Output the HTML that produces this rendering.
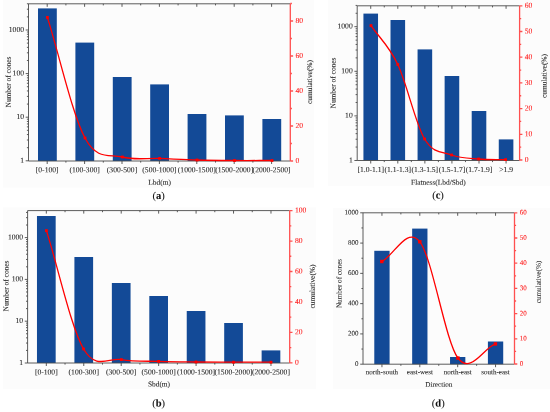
<!DOCTYPE html>
<html><head><meta charset="utf-8"><style>
html,body{margin:0;padding:0;background:#fff;}
svg{display:block;font-family:'Liberation Serif','Times New Roman',serif;} text{stroke-width:0.08px;}
</style></head><body>
<svg width="550" height="412" viewBox="0 0 550 412">
<rect width="550" height="412" fill="#fff"/>
<rect x="3" y="0" width="311" height="187.5" fill="#fcfcfc"/>
<rect x="38" y="8.4" width="18.8" height="152.6" fill="#134a97"/>
<rect x="75.4" y="42.6" width="18.8" height="118.4" fill="#134a97"/>
<rect x="112.8" y="77" width="18.8" height="84" fill="#134a97"/>
<rect x="150.2" y="84.4" width="18.8" height="76.6" fill="#134a97"/>
<rect x="187.6" y="114" width="18.8" height="47" fill="#134a97"/>
<rect x="225" y="115.4" width="18.8" height="45.6" fill="#134a97"/>
<rect x="262.4" y="119" width="18.8" height="42" fill="#134a97"/>
<path d="M28.5 3.8 V161 H290.3 M28.5 3.8 H290.3" stroke="#4a4a4a" stroke-width="0.9" fill="none"/>
<path d="M47.2 161 v3 M47.2 3.8 v3 M84.6 161 v3 M84.6 3.8 v3 M122 161 v3 M122 3.8 v3 M159.4 161 v3 M159.4 3.8 v3 M196.8 161 v3 M196.8 3.8 v3 M234.2 161 v3 M234.2 3.8 v3 M271.6 161 v3 M271.6 3.8 v3 M65.9 161 v1.6 M65.9 3.8 v1.6 M103.3 161 v1.6 M103.3 3.8 v1.6 M140.7 161 v1.6 M140.7 3.8 v1.6 M178.1 161 v1.6 M178.1 3.8 v1.6 M215.5 161 v1.6 M215.5 3.8 v1.6 M252.9 161 v1.6 M252.9 3.8 v1.6 M28.5 160.8 h-2.8 M28.5 147.68 h-1.6 M28.5 140 h-1.6 M28.5 134.55 h-1.6 M28.5 130.32 h-1.6 M28.5 126.87 h-1.6 M28.5 123.95 h-1.6 M28.5 121.43 h-1.6 M28.5 119.2 h-1.6 M28.5 117.2 h-2.8 M28.5 104.08 h-1.6 M28.5 96.4 h-1.6 M28.5 90.95 h-1.6 M28.5 86.72 h-1.6 M28.5 83.27 h-1.6 M28.5 80.35 h-1.6 M28.5 77.83 h-1.6 M28.5 75.6 h-1.6 M28.5 73.6 h-2.8 M28.5 60.48 h-1.6 M28.5 52.8 h-1.6 M28.5 47.35 h-1.6 M28.5 43.12 h-1.6 M28.5 39.67 h-1.6 M28.5 36.75 h-1.6 M28.5 34.23 h-1.6 M28.5 32 h-1.6 M28.5 30 h-2.8 M28.5 16.88 h-1.6 M28.5 9.2 h-1.6 M28.5 3.75 h-1.6" stroke="#4a4a4a" stroke-width="0.9" fill="none"/>
<text transform="rotate(0.06 24 160.8)" x="24" y="162.71" font-size="7.6" text-anchor="end" fill="#262626" stroke="#262626">1</text>
<text transform="rotate(0.06 24 117.2)" x="24" y="119.11" font-size="7.6" text-anchor="end" fill="#262626" stroke="#262626">10</text>
<text transform="rotate(0.06 24 73.6)" x="24" y="75.51" font-size="7.6" text-anchor="end" fill="#262626" stroke="#262626">100</text>
<text transform="rotate(0.06 24 30)" x="24" y="31.91" font-size="7.6" text-anchor="end" fill="#262626" stroke="#262626">1000</text>
<path d="M290.3 3.8 V161 M290.3 161 h2.8 M290.3 143.5 h1.6 M290.3 126 h2.8 M290.3 108.5 h1.6 M290.3 91 h2.8 M290.3 73.5 h1.6 M290.3 56 h2.8 M290.3 38.5 h1.6 M290.3 21 h2.8 M290.3 3.5 h1.6" stroke="#ff5050" stroke-width="1.3" fill="none"/>
<text transform="rotate(0.06 295.5 161)" x="295.5" y="163.01" font-size="7.6" fill="#ff1a1a" stroke="#ff1a1a">0</text>
<text transform="rotate(0.06 295.5 126)" x="295.5" y="128.01" font-size="7.6" fill="#ff1a1a" stroke="#ff1a1a">20</text>
<text transform="rotate(0.06 295.5 91)" x="295.5" y="93.01" font-size="7.6" fill="#ff1a1a" stroke="#ff1a1a">40</text>
<text transform="rotate(0.06 295.5 56)" x="295.5" y="58.01" font-size="7.6" fill="#ff1a1a" stroke="#ff1a1a">60</text>
<text transform="rotate(0.06 295.5 21)" x="295.5" y="23.01" font-size="7.6" fill="#ff1a1a" stroke="#ff1a1a">80</text>
<text transform="rotate(0.06 47.2 172.2)" x="47.2" y="172.2" font-size="7.6" text-anchor="middle" fill="#262626" stroke="#262626">[0-100]</text>
<text transform="rotate(0.06 84.6 172.2)" x="84.6" y="172.2" font-size="7.6" text-anchor="middle" fill="#262626" stroke="#262626">(100-300]</text>
<text transform="rotate(0.06 122 172.2)" x="122" y="172.2" font-size="7.6" text-anchor="middle" fill="#262626" stroke="#262626">(300-500]</text>
<text transform="rotate(0.06 159.4 172.2)" x="159.4" y="172.2" font-size="7.6" text-anchor="middle" fill="#262626" stroke="#262626">(500-1000]</text>
<text transform="rotate(0.06 196.8 172.2)" x="196.8" y="172.2" font-size="7.6" text-anchor="middle" fill="#262626" stroke="#262626">(1000-1500]</text>
<text transform="rotate(0.06 234.2 172.2)" x="234.2" y="172.2" font-size="7.6" text-anchor="middle" fill="#262626" stroke="#262626">(1500-2000]</text>
<text transform="rotate(0.06 271.6 172.2)" x="271.6" y="172.2" font-size="7.6" text-anchor="middle" fill="#262626" stroke="#262626">(2000-2500]</text>
<text transform="rotate(0.06 159.6 184.8)" x="159.6" y="184.8" font-size="7.4" text-anchor="middle" fill="#262626" stroke="#262626">Lbd(m)</text>
<text transform="translate(10.8 82) rotate(-89.94)" font-size="7.4" text-anchor="middle" fill="#262626" stroke="#262626">Number of cones</text>
<text transform="translate(312 82) rotate(-89.94)" font-size="7.4" text-anchor="middle" fill="#262626" stroke="#262626">cumulative(%)</text>
<text transform="rotate(0.06 158.6 199)" x="158.6" y="199" font-size="10.5" text-anchor="middle" fill="#111" stroke="#111">(<tspan font-weight="bold">a</tspan>)</text>
<path d="M47.4 17.4 C59.93 57.6 72.5 114.73 85 138 C97.5 161.27 109.97 153.6 122.4 157 C134.83 160.4 147.17 157.9 159.6 158.4 C172.03 158.9 184.52 159.65 197 160 C209.48 160.35 222 160.42 234.5 160.5 C247 160.58 259.5 160.5 272 160.5" stroke="#ff0000" stroke-width="1.3" fill="none" stroke-linejoin="round"/>
<rect x="46" y="16" width="2.8" height="2.8" fill="#ff0000"/>
<rect x="83.6" y="136.6" width="2.8" height="2.8" fill="#ff0000"/>
<rect x="121" y="155.6" width="2.8" height="2.8" fill="#ff0000"/>
<rect x="158.2" y="157" width="2.8" height="2.8" fill="#ff0000"/>
<rect x="195.6" y="158.6" width="2.8" height="2.8" fill="#ff0000"/>
<rect x="233.1" y="159.1" width="2.8" height="2.8" fill="#ff0000"/>
<rect x="270.6" y="159.1" width="2.8" height="2.8" fill="#ff0000"/>
<rect x="328" y="0" width="222" height="186" fill="#fcfcfc"/>
<rect x="363.43" y="13.6" width="14.6" height="146.9" fill="#134a97"/>
<rect x="390.5" y="20" width="14.6" height="140.5" fill="#134a97"/>
<rect x="417.57" y="49.4" width="14.6" height="111.1" fill="#134a97"/>
<rect x="444.63" y="76" width="14.6" height="84.5" fill="#134a97"/>
<rect x="471.7" y="111" width="14.6" height="49.5" fill="#134a97"/>
<rect x="498.77" y="139.4" width="14.6" height="21.1" fill="#134a97"/>
<path d="M357.2 5.8 V160.5 H519.6 M357.2 5.8 H519.6" stroke="#4a4a4a" stroke-width="0.9" fill="none"/>
<path d="M370.73 160.5 v3 M370.73 5.8 v3 M397.8 160.5 v3 M397.8 5.8 v3 M424.87 160.5 v3 M424.87 5.8 v3 M451.93 160.5 v3 M451.93 5.8 v3 M479 160.5 v3 M479 5.8 v3 M506.07 160.5 v3 M506.07 5.8 v3 M384.27 160.5 v1.6 M384.27 5.8 v1.6 M411.33 160.5 v1.6 M411.33 5.8 v1.6 M438.4 160.5 v1.6 M438.4 5.8 v1.6 M465.47 160.5 v1.6 M465.47 5.8 v1.6 M492.53 160.5 v1.6 M492.53 5.8 v1.6 M357.2 160.5 h-2.8 M357.2 147.07 h-1.6 M357.2 139.22 h-1.6 M357.2 133.65 h-1.6 M357.2 129.33 h-1.6 M357.2 125.79 h-1.6 M357.2 122.81 h-1.6 M357.2 120.22 h-1.6 M357.2 117.94 h-1.6 M357.2 115.9 h-2.8 M357.2 102.47 h-1.6 M357.2 94.62 h-1.6 M357.2 89.05 h-1.6 M357.2 84.73 h-1.6 M357.2 81.19 h-1.6 M357.2 78.21 h-1.6 M357.2 75.62 h-1.6 M357.2 73.34 h-1.6 M357.2 71.3 h-2.8 M357.2 57.87 h-1.6 M357.2 50.02 h-1.6 M357.2 44.45 h-1.6 M357.2 40.13 h-1.6 M357.2 36.59 h-1.6 M357.2 33.61 h-1.6 M357.2 31.02 h-1.6 M357.2 28.74 h-1.6 M357.2 26.7 h-2.8 M357.2 13.27 h-1.6 M357.2 5.42 h-1.6" stroke="#4a4a4a" stroke-width="0.9" fill="none"/>
<text transform="rotate(0.06 352.7 160.5)" x="352.7" y="162.41" font-size="7.6" text-anchor="end" fill="#262626" stroke="#262626">1</text>
<text transform="rotate(0.06 352.7 115.9)" x="352.7" y="117.81" font-size="7.6" text-anchor="end" fill="#262626" stroke="#262626">10</text>
<text transform="rotate(0.06 352.7 71.3)" x="352.7" y="73.21" font-size="7.6" text-anchor="end" fill="#262626" stroke="#262626">100</text>
<text transform="rotate(0.06 352.7 26.7)" x="352.7" y="28.61" font-size="7.6" text-anchor="end" fill="#262626" stroke="#262626">1000</text>
<path d="M519.6 5.8 V160.5 M519.6 160 h2.8 M519.6 147.15 h1.6 M519.6 134.3 h2.8 M519.6 121.45 h1.6 M519.6 108.6 h2.8 M519.6 95.75 h1.6 M519.6 82.9 h2.8 M519.6 70.05 h1.6 M519.6 57.2 h2.8 M519.6 44.35 h1.6 M519.6 31.5 h2.8 M519.6 18.65 h1.6 M519.6 5.8 h2.8" stroke="#ff5050" stroke-width="1.3" fill="none"/>
<text transform="rotate(0.06 524.8 160)" x="524.8" y="162.01" font-size="7.6" fill="#ff1a1a" stroke="#ff1a1a">0</text>
<text transform="rotate(0.06 524.8 134.3)" x="524.8" y="136.31" font-size="7.6" fill="#ff1a1a" stroke="#ff1a1a">10</text>
<text transform="rotate(0.06 524.8 108.6)" x="524.8" y="110.61" font-size="7.6" fill="#ff1a1a" stroke="#ff1a1a">20</text>
<text transform="rotate(0.06 524.8 82.9)" x="524.8" y="84.91" font-size="7.6" fill="#ff1a1a" stroke="#ff1a1a">30</text>
<text transform="rotate(0.06 524.8 57.2)" x="524.8" y="59.21" font-size="7.6" fill="#ff1a1a" stroke="#ff1a1a">40</text>
<text transform="rotate(0.06 524.8 31.5)" x="524.8" y="33.51" font-size="7.6" fill="#ff1a1a" stroke="#ff1a1a">50</text>
<text transform="rotate(0.06 524.8 5.8)" x="524.8" y="7.81" font-size="7.6" fill="#ff1a1a" stroke="#ff1a1a">60</text>
<text transform="rotate(0.06 370.73 172)" x="370.73" y="172" font-size="7.6" text-anchor="middle" fill="#262626" stroke="#262626">[1.0-1.1]</text>
<text transform="rotate(0.06 397.8 172)" x="397.8" y="172" font-size="7.6" text-anchor="middle" fill="#262626" stroke="#262626">(1.1-1.3]</text>
<text transform="rotate(0.06 424.87 172)" x="424.87" y="172" font-size="7.6" text-anchor="middle" fill="#262626" stroke="#262626">(1.3-1.5]</text>
<text transform="rotate(0.06 451.93 172)" x="451.93" y="172" font-size="7.6" text-anchor="middle" fill="#262626" stroke="#262626">(1.5-1.7]</text>
<text transform="rotate(0.06 479 172)" x="479" y="172" font-size="7.6" text-anchor="middle" fill="#262626" stroke="#262626">(1.7-1.9]</text>
<text transform="rotate(0.06 506.07 172)" x="506.07" y="172" font-size="7.6" text-anchor="middle" fill="#262626" stroke="#262626">>1.9</text>
<text transform="rotate(0.06 438.4 184.7)" x="438.4" y="184.7" font-size="7.4" text-anchor="middle" fill="#262626" stroke="#262626">Flatness(Lbd/Sbd)</text>
<text transform="translate(335.6 83) rotate(-89.94)" font-size="7.4" text-anchor="middle" fill="#262626" stroke="#262626">Number of cones</text>
<text transform="translate(546.4 76) rotate(-89.94)" font-size="7.4" text-anchor="middle" fill="#262626" stroke="#262626">cumulative(%)</text>
<text transform="rotate(0.06 438 198.5)" x="438" y="198.5" font-size="10.5" text-anchor="middle" fill="#111" stroke="#111">(<tspan font-weight="bold">c</tspan>)</text>
<path d="M371 25.6 C379.93 38.57 388.87 45.6 397.8 64.5 C406.73 83.4 415.63 123.92 424.6 139 C433.57 154.08 442.6 151.67 451.6 155 C460.6 158.33 469.6 158.23 478.6 159 C487.6 159.77 496.6 159.4 505.6 159.6" stroke="#ff0000" stroke-width="1.3" fill="none" stroke-linejoin="round"/>
<rect x="369.6" y="24.2" width="2.8" height="2.8" fill="#ff0000"/>
<rect x="396.4" y="63.1" width="2.8" height="2.8" fill="#ff0000"/>
<rect x="423.2" y="137.6" width="2.8" height="2.8" fill="#ff0000"/>
<rect x="450.2" y="153.6" width="2.8" height="2.8" fill="#ff0000"/>
<rect x="477.2" y="157.6" width="2.8" height="2.8" fill="#ff0000"/>
<rect x="504.2" y="158.2" width="2.8" height="2.8" fill="#ff0000"/>
<rect x="3" y="207.5" width="313" height="181.5" fill="#fcfcfc"/>
<rect x="36.97" y="216" width="18.7" height="147" fill="#134a97"/>
<rect x="74.41" y="257" width="18.7" height="106" fill="#134a97"/>
<rect x="111.86" y="283" width="18.7" height="80" fill="#134a97"/>
<rect x="149.3" y="296" width="18.7" height="67" fill="#134a97"/>
<rect x="186.74" y="311" width="18.7" height="52" fill="#134a97"/>
<rect x="224.19" y="323" width="18.7" height="40" fill="#134a97"/>
<rect x="261.63" y="350.4" width="18.7" height="12.6" fill="#134a97"/>
<path d="M27.6 210.6 V363 H289.7 M27.6 210.6 H289.7" stroke="#4a4a4a" stroke-width="0.9" fill="none"/>
<path d="M46.32 363 v3 M46.32 210.6 v3 M83.76 363 v3 M83.76 210.6 v3 M121.21 363 v3 M121.21 210.6 v3 M158.65 363 v3 M158.65 210.6 v3 M196.09 363 v3 M196.09 210.6 v3 M233.54 363 v3 M233.54 210.6 v3 M270.98 363 v3 M270.98 210.6 v3 M65.04 363 v1.6 M65.04 210.6 v1.6 M102.49 363 v1.6 M102.49 210.6 v1.6 M139.93 363 v1.6 M139.93 210.6 v1.6 M177.37 363 v1.6 M177.37 210.6 v1.6 M214.81 363 v1.6 M214.81 210.6 v1.6 M252.26 363 v1.6 M252.26 210.6 v1.6 M27.6 363 h-2.8 M27.6 350.42 h-1.6 M27.6 343.06 h-1.6 M27.6 337.83 h-1.6 M27.6 333.78 h-1.6 M27.6 330.47 h-1.6 M27.6 327.67 h-1.6 M27.6 325.25 h-1.6 M27.6 323.11 h-1.6 M27.6 321.2 h-2.8 M27.6 308.62 h-1.6 M27.6 301.26 h-1.6 M27.6 296.03 h-1.6 M27.6 291.98 h-1.6 M27.6 288.67 h-1.6 M27.6 285.87 h-1.6 M27.6 283.45 h-1.6 M27.6 281.31 h-1.6 M27.6 279.4 h-2.8 M27.6 266.82 h-1.6 M27.6 259.46 h-1.6 M27.6 254.23 h-1.6 M27.6 250.18 h-1.6 M27.6 246.87 h-1.6 M27.6 244.07 h-1.6 M27.6 241.65 h-1.6 M27.6 239.51 h-1.6 M27.6 237.6 h-2.8 M27.6 225.02 h-1.6 M27.6 217.66 h-1.6 M27.6 212.43 h-1.6" stroke="#4a4a4a" stroke-width="0.9" fill="none"/>
<text transform="rotate(0.06 23.1 363)" x="23.1" y="364.91" font-size="7.6" text-anchor="end" fill="#262626" stroke="#262626">1</text>
<text transform="rotate(0.06 23.1 321.2)" x="23.1" y="323.11" font-size="7.6" text-anchor="end" fill="#262626" stroke="#262626">10</text>
<text transform="rotate(0.06 23.1 279.4)" x="23.1" y="281.31" font-size="7.6" text-anchor="end" fill="#262626" stroke="#262626">100</text>
<text transform="rotate(0.06 23.1 237.6)" x="23.1" y="239.51" font-size="7.6" text-anchor="end" fill="#262626" stroke="#262626">1000</text>
<path d="M289.7 210.6 V363 M289.7 362.8 h2.8 M289.7 347.58 h1.6 M289.7 332.36 h2.8 M289.7 317.14 h1.6 M289.7 301.92 h2.8 M289.7 286.7 h1.6 M289.7 271.48 h2.8 M289.7 256.26 h1.6 M289.7 241.04 h2.8 M289.7 225.82 h1.6 M289.7 210.6 h2.8" stroke="#ff5050" stroke-width="1.3" fill="none"/>
<text transform="rotate(0.06 294.9 362.8)" x="294.9" y="364.81" font-size="7.6" fill="#ff1a1a" stroke="#ff1a1a">0</text>
<text transform="rotate(0.06 294.9 332.36)" x="294.9" y="334.37" font-size="7.6" fill="#ff1a1a" stroke="#ff1a1a">20</text>
<text transform="rotate(0.06 294.9 301.92)" x="294.9" y="303.93" font-size="7.6" fill="#ff1a1a" stroke="#ff1a1a">40</text>
<text transform="rotate(0.06 294.9 271.48)" x="294.9" y="273.49" font-size="7.6" fill="#ff1a1a" stroke="#ff1a1a">60</text>
<text transform="rotate(0.06 294.9 241.04)" x="294.9" y="243.05" font-size="7.6" fill="#ff1a1a" stroke="#ff1a1a">80</text>
<text transform="rotate(0.06 294.9 210.6)" x="294.9" y="212.61" font-size="7.6" fill="#ff1a1a" stroke="#ff1a1a">100</text>
<text transform="rotate(0.06 46.32 374.4)" x="46.32" y="374.4" font-size="7.6" text-anchor="middle" fill="#262626" stroke="#262626">[0-100]</text>
<text transform="rotate(0.06 83.76 374.4)" x="83.76" y="374.4" font-size="7.6" text-anchor="middle" fill="#262626" stroke="#262626">(100-300]</text>
<text transform="rotate(0.06 121.21 374.4)" x="121.21" y="374.4" font-size="7.6" text-anchor="middle" fill="#262626" stroke="#262626">(300-500]</text>
<text transform="rotate(0.06 158.65 374.4)" x="158.65" y="374.4" font-size="7.6" text-anchor="middle" fill="#262626" stroke="#262626">(500-1000]</text>
<text transform="rotate(0.06 196.09 374.4)" x="196.09" y="374.4" font-size="7.6" text-anchor="middle" fill="#262626" stroke="#262626">(1000-1500]</text>
<text transform="rotate(0.06 233.54 374.4)" x="233.54" y="374.4" font-size="7.6" text-anchor="middle" fill="#262626" stroke="#262626">(1500-2000]</text>
<text transform="rotate(0.06 270.98 374.4)" x="270.98" y="374.4" font-size="7.6" text-anchor="middle" fill="#262626" stroke="#262626">(2000-2500]</text>
<text transform="rotate(0.06 159 386.6)" x="159" y="386.6" font-size="7.4" text-anchor="middle" fill="#262626" stroke="#262626">Sbd(m)</text>
<text transform="translate(8.4 286) rotate(-89.94)" font-size="7.4" text-anchor="middle" fill="#262626" stroke="#262626">Number of cones</text>
<text transform="translate(314.7 286.5) rotate(-89.94)" font-size="7.4" text-anchor="middle" fill="#262626" stroke="#262626">cumulative(%)</text>
<text transform="rotate(0.06 158.6 406.5)" x="158.6" y="406.5" font-size="10.5" text-anchor="middle" fill="#111" stroke="#111">(<tspan font-weight="bold">b</tspan>)</text>
<path d="M46.4 230.6 C58.8 270.07 71.1 327.5 83.6 349 C96.1 370.5 108.9 357.53 121.4 359.6 C133.9 361.67 146.17 361 158.6 361.4 C171.03 361.8 183.52 361.87 196 362 C208.48 362.13 221 362.17 233.5 362.2 C246 362.23 258.5 362.2 271 362.2" stroke="#ff0000" stroke-width="1.3" fill="none" stroke-linejoin="round"/>
<rect x="45" y="229.2" width="2.8" height="2.8" fill="#ff0000"/>
<rect x="82.2" y="347.6" width="2.8" height="2.8" fill="#ff0000"/>
<rect x="120" y="358.2" width="2.8" height="2.8" fill="#ff0000"/>
<rect x="157.2" y="360" width="2.8" height="2.8" fill="#ff0000"/>
<rect x="194.6" y="360.6" width="2.8" height="2.8" fill="#ff0000"/>
<rect x="232.1" y="360.8" width="2.8" height="2.8" fill="#ff0000"/>
<rect x="269.6" y="360.8" width="2.8" height="2.8" fill="#ff0000"/>
<rect x="333" y="208" width="217" height="181" fill="#fcfcfc"/>
<rect x="374.29" y="250.8" width="15.3" height="113.4" fill="#134a97"/>
<rect x="412.16" y="228.6" width="15.3" height="135.6" fill="#134a97"/>
<rect x="450.04" y="357" width="15.3" height="7.2" fill="#134a97"/>
<rect x="487.91" y="341.5" width="15.3" height="22.7" fill="#134a97"/>
<path d="M363 212.8 V364.2 H514.5 M363 212.8 H514.5" stroke="#4a4a4a" stroke-width="0.9" fill="none"/>
<path d="M381.94 364.2 v3 M381.94 212.8 v3 M419.81 364.2 v3 M419.81 212.8 v3 M457.69 364.2 v3 M457.69 212.8 v3 M495.56 364.2 v3 M495.56 212.8 v3 M400.88 364.2 v1.6 M400.88 212.8 v1.6 M438.75 364.2 v1.6 M438.75 212.8 v1.6 M476.62 364.2 v1.6 M476.62 212.8 v1.6 M363 364.2 h-2.8 M363 349.06 h-1.6 M363 333.92 h-2.8 M363 318.78 h-1.6 M363 303.64 h-2.8 M363 288.5 h-1.6 M363 273.36 h-2.8 M363 258.22 h-1.6 M363 243.08 h-2.8 M363 227.94 h-1.6 M363 212.8 h-2.8" stroke="#4a4a4a" stroke-width="0.9" fill="none"/>
<text transform="rotate(0.06 358.5 364.2)" x="358.5" y="365.91" font-size="7.0" text-anchor="end" fill="#262626" stroke="#262626">0</text>
<text transform="rotate(0.06 358.5 333.92)" x="358.5" y="335.63" font-size="7.0" text-anchor="end" fill="#262626" stroke="#262626">200</text>
<text transform="rotate(0.06 358.5 303.64)" x="358.5" y="305.35" font-size="7.0" text-anchor="end" fill="#262626" stroke="#262626">400</text>
<text transform="rotate(0.06 358.5 273.36)" x="358.5" y="275.07" font-size="7.0" text-anchor="end" fill="#262626" stroke="#262626">600</text>
<text transform="rotate(0.06 358.5 243.08)" x="358.5" y="244.79" font-size="7.0" text-anchor="end" fill="#262626" stroke="#262626">800</text>
<text transform="rotate(0.06 358.5 212.8)" x="358.5" y="214.51" font-size="7.0" text-anchor="end" fill="#262626" stroke="#262626">1000</text>
<path d="M514.5 212.8 V364.2 M514.5 364 h2.8 M514.5 351.4 h1.6 M514.5 338.8 h2.8 M514.5 326.2 h1.6 M514.5 313.6 h2.8 M514.5 301 h1.6 M514.5 288.4 h2.8 M514.5 275.8 h1.6 M514.5 263.2 h2.8 M514.5 250.6 h1.6 M514.5 238 h2.8 M514.5 225.4 h1.6 M514.5 212.8 h2.8" stroke="#ff5050" stroke-width="1.3" fill="none"/>
<text transform="rotate(0.06 519.7 364)" x="519.7" y="365.81" font-size="7.0" fill="#ff1a1a" stroke="#ff1a1a">0</text>
<text transform="rotate(0.06 519.7 338.8)" x="519.7" y="340.61" font-size="7.0" fill="#ff1a1a" stroke="#ff1a1a">10</text>
<text transform="rotate(0.06 519.7 313.6)" x="519.7" y="315.41" font-size="7.0" fill="#ff1a1a" stroke="#ff1a1a">20</text>
<text transform="rotate(0.06 519.7 288.4)" x="519.7" y="290.21" font-size="7.0" fill="#ff1a1a" stroke="#ff1a1a">30</text>
<text transform="rotate(0.06 519.7 263.2)" x="519.7" y="265.01" font-size="7.0" fill="#ff1a1a" stroke="#ff1a1a">40</text>
<text transform="rotate(0.06 519.7 238)" x="519.7" y="239.81" font-size="7.0" fill="#ff1a1a" stroke="#ff1a1a">50</text>
<text transform="rotate(0.06 519.7 212.8)" x="519.7" y="214.61" font-size="7.0" fill="#ff1a1a" stroke="#ff1a1a">60</text>
<text transform="rotate(0.06 381.94 374.3)" x="381.94" y="374.3" font-size="7.0" text-anchor="middle" fill="#262626" stroke="#262626">north-south</text>
<text transform="rotate(0.06 419.81 374.3)" x="419.81" y="374.3" font-size="7.0" text-anchor="middle" fill="#262626" stroke="#262626">east-west</text>
<text transform="rotate(0.06 457.69 374.3)" x="457.69" y="374.3" font-size="7.0" text-anchor="middle" fill="#262626" stroke="#262626">north-east</text>
<text transform="rotate(0.06 495.56 374.3)" x="495.56" y="374.3" font-size="7.0" text-anchor="middle" fill="#262626" stroke="#262626">south-east</text>
<text transform="rotate(0.06 438.8 386.8)" x="438.8" y="386.8" font-size="7.15" text-anchor="middle" fill="#262626" stroke="#262626">Direction</text>
<text transform="translate(341.4 283.5) rotate(-89.94)" font-size="7.15" text-anchor="middle" fill="#262626" stroke="#262626">Number of cones</text>
<text transform="translate(540.8 282) rotate(-89.94)" font-size="7.15" text-anchor="middle" fill="#262626" stroke="#262626">cumulative(%)</text>
<text transform="rotate(0.06 438.3 406.5)" x="438.3" y="406.5" font-size="10.5" text-anchor="middle" fill="#111" stroke="#111">(<tspan font-weight="bold">d</tspan>)</text>
<path d="M381.8 261.5 C394.47 254.93 407.12 225.72 419.8 241.8 C432.48 257.88 445.3 340.98 457.9 358 C470.5 375.02 482.9 348.6 495.4 343.9" stroke="#ff0000" stroke-width="1.3" fill="none" stroke-linejoin="round"/>
<rect x="380.1" y="259.8" width="3.4" height="3.4" fill="#ff0000"/>
<rect x="418.1" y="240.1" width="3.4" height="3.4" fill="#ff0000"/>
<rect x="456.2" y="356.3" width="3.4" height="3.4" fill="#ff0000"/>
<rect x="493.7" y="342.2" width="3.4" height="3.4" fill="#ff0000"/>
</svg>
</body></html>
